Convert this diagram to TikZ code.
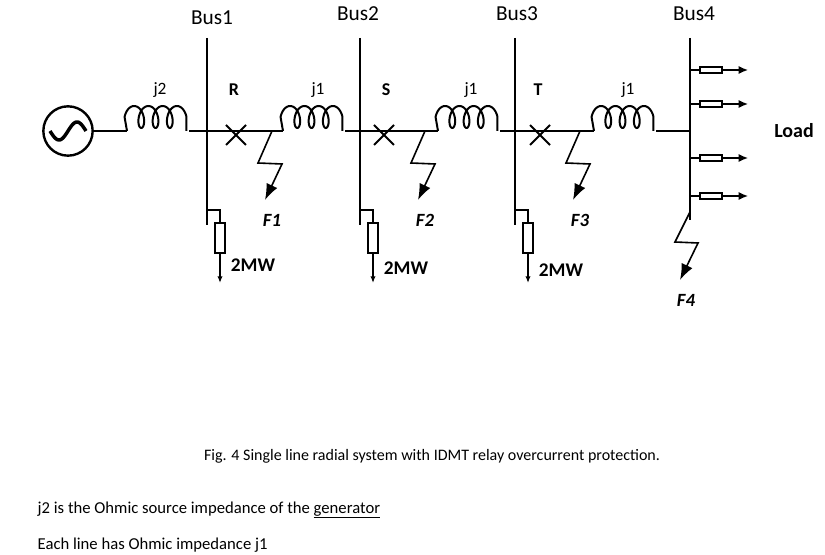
\documentclass[tikz,border=0pt]{standalone}
\usepackage{fontspec}
\setmainfont{Carlito}
\usetikzlibrary{arrows.meta}
\newcommand\mycoil[2]{% start x, line y
  \draw[line] (#1,#2) -- ({#1+0.5*pi*2.27-6},{#2-14})
    plot[domain=0.5*pi:7.5*pi,samples=160,smooth] ({#1+2.27*\x-6*sin(\x r)},{#2-3-11*(1-cos(\x r))})
    -- ({#1+7.5*pi*2.27+6},{#2});}
\begin{document}
\begin{tikzpicture}[x=0.75pt,y=-0.75pt,
  line/.style={line width=1.5pt},
  thin/.style={line width=1pt},
  lab/.style={font=\fontsize{13}{15}\selectfont},
  blab/.style={font=\bfseries\fontsize{13.5}{15}\selectfont},
  mlab/.style={font=\bfseries\fontsize{14.5}{17}\selectfont},
  flab/.style={font=\bfseries\itshape\fontsize{14}{16}\selectfont},
  buslab/.style={font=\fontsize{16}{18}\selectfont},
  fault/.style={line width=1.2pt,-{Latex[length=12pt,width=9pt]}},
  xcross/.style={line width=1.5pt}]
\useasboundingbox (0,0) rectangle (825,555);
% generator
\node[circle,draw,line width=1.8pt,minimum size=37pt,inner sep=0] (G) at (68,131) {};
\draw[line width=2.6pt] plot[domain=-pi:pi,samples=40,smooth] ({68+18*\x/pi},{131-9*sin(\x r)});
% buses
\foreach \n/\x in {1/207,2/360,3/515}{
  \coordinate (B\n t) at (\x,38); \coordinate (B\n b) at (\x,225);
  \draw[thin] (B\n t) -- (B\n b);
}
\coordinate (B4t) at (690,38); \coordinate (B4b) at (690,220);
\draw[line] (B4t) -- (B4b);
% main line pieces
\draw[line] (G.east) -- (127,131);
\mycoil{127}{131}
\draw[line] (189,131) -- (283,131);
\mycoil{283}{131}
\draw[line] (345,131) -- (438,131);
\mycoil{438}{131}
\draw[line] (500,131) -- (594,131);
\mycoil{594}{131}
\draw[line] (656,131) -- (690,131);
% breakers, faults, loads
\foreach \bx/\cx/\fx/\fl/\ml/\my in {207/236/272/F1/2MW/265, 360/384/425/F2/2MW/268, 515/540/580/F3/2MW/270}{
  \draw[xcross] (\cx-10,125) -- (\cx+10,145) (\cx-10,145) -- (\cx+10,125);
  \draw[fault] (\fx,131) -- (\fx-14,163) -- (\fx+10,164) -- (\fx-7,200);
  \node[flab] at (\fx,220) {\fl};
  \draw[thin] (\bx,210) -- (\bx+13,210) -- (\bx+13,223);
  \draw[thin] (\bx+8,223) rectangle (\bx+18,253);
  \draw[thin,-{Latex[length=5pt,width=4pt]}] (\bx+13,253) -- (\bx+13,283);
  \node[mlab] at (\bx+46,\my) {\ml};
}
% bus4 loads
\foreach \y in {70,104,158,196}{
  \draw[thin] (690,\y) -- (700,\y);
  \draw[thin] (700,\y-3) rectangle (722,\y+3);
  \draw[thin,-{Latex[length=7pt,width=6pt]}] (722,\y) -- (748,\y);
}
\draw[fault] (690,212) -- (675,242) -- (698,243) -- (680,280);
\node[flab] at (686,300) {F4};
\node[font=\bfseries\fontsize{15}{17}\selectfont] at (794,131) {Load};
% labels
\node[buslab] at (212,18) {Bus1};
\node[buslab] at (358,14) {Bus2};
\node[buslab] at (517,14) {Bus3};
\node[buslab] at (694,14) {Bus4};
\node[lab] at (160,90) {j2};
\node[lab] at (318,90) {j1};
\node[lab] at (471,90) {j1};
\node[lab] at (628,90) {j1};
\node[blab] at (234,90) {R};
\node[blab] at (386,90) {S};
\node[blab] at (538,90) {T};
\node[font=\fontsize{12}{14}\selectfont] at (432,456) {Fig. 4 Single line radial system with IDMT relay overcurrent protection.};
\node[anchor=west,font=\fontsize{12.5}{15}\selectfont] (t1) at (33,510) {j2 is the Ohmic source impedance of the \underline{generator}};
\node[anchor=west,font=\fontsize{12.5}{15}\selectfont] (t2) at (33,545) {Each line has Ohmic impedance j1};
\end{tikzpicture}
\end{document}
